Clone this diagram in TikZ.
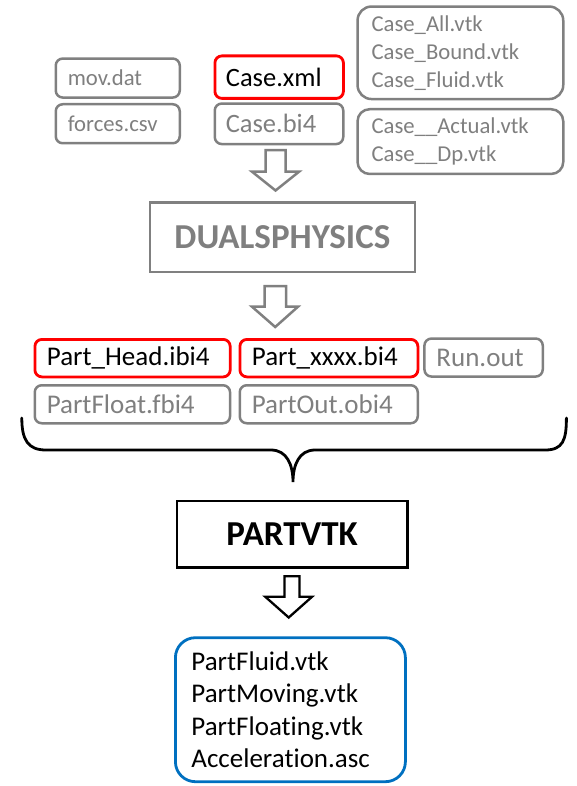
\documentclass[tikz,border=0pt]{standalone}
\usepackage{fontspec}
\setmainfont{Carlito}[Ligatures=NoCommon]
\definecolor{gbord}{HTML}{808080}
\definecolor{gtext}{HTML}{7F7F7F}
\definecolor{rbord}{HTML}{FF0000}
\definecolor{bbord}{HTML}{0070C0}
\begin{document}
\begin{tikzpicture}[x=1pt,y=-1pt,
  fbox/.style={line width=2.5pt, rounded corners=7pt, anchor=north west, align=left, inner ysep=0pt, inner xsep=12pt},
  gfile/.style={fbox, draw=gbord, text=gtext},
  rfile/.style={fbox, draw=rbord, text=black, line width=2.8pt},
  smallf/.style={font=\fontsize{22.7}{28}\selectfont},
  midf/.style={font=\fontsize{26.5}{32}\selectfont},
  bigf/.style={font=\fontsize{27}{32.3}\selectfont},
  prog/.style={line width=2.5pt, anchor=north west, inner sep=0pt, font=\bfseries\fontsize{35}{42}\selectfont},
  garrow/.style={draw=gbord, line width=2.5pt, line join=miter},
  karrow/.style={draw=black, line width=2.3pt, line join=miter},
  bracepath/.style={draw=black, line width=2.8pt, line cap=round}
]
\useasboundingbox (0,0) rectangle (576,786);

% top inputs
\node[gfile,smallf,text width=100pt,minimum height=39pt] (mov) at (54.5,57.3) {mov.dat};
\node[gfile,smallf,text width=100pt,minimum height=39pt] (forces) at (54.5,103) {forces.csv};
\node[rfile,midf,inner xsep=11pt,text width=106.5pt,minimum height=42.5pt] (xml) at (213.5,54.5) {Case.xml};
\node[gfile,midf,inner xsep=11pt,text width=106.5pt,minimum height=40.5pt] (bi4) at (213.5,102.3) {Case.bi4};
\node[gfile,smallf,inner xsep=14pt,rounded corners=14pt,text width=177.7pt,minimum height=92.5pt] (caseall) at (356.3,5.3) {Case\_All.vtk\\Case\_Bound.vtk\\Case\_Fluid.vtk};
\node[gfile,smallf,inner xsep=14pt,rounded corners=12pt,text width=177.7pt,minimum height=64.7pt] (caseact) at (356.3,108) {Case\_\_Actual.vtk\\Case\_\_Dp.vtk};

% arrow 1
\draw[garrow] (265.5,150.2) -- (285.5,150.2) -- (285.5,171.7) -- (299,171.7) -- (275.5,190.5) -- (252,171.7) -- (265.5,171.7) -- cycle;

% DUALSPHYSICS
\node[prog,draw=gbord,text=gtext,minimum width=265.3pt,minimum height=69.3pt] (dual) at (148.5,201.2) {DUALSPHYSICS};

% arrow 2
\draw[garrow] (264.5,286.2) -- (286,286.2) -- (286,306.7) -- (298,306.7) -- (275.2,327) -- (252,306.7) -- (264.5,306.7) -- cycle;

% outputs of DualSPHysics
\node[rfile,bigf,text width=171.3pt,minimum height=37.5pt] (head) at (33.5,338) {Part\_Head.ibi4};
\node[rfile,bigf,text width=154pt,minimum height=37.5pt] (xxxx) at (238.5,338) {Part\_xxxx.bi4};
\node[gfile,bigf,text width=94.3pt,minimum height=38pt] (run) at (423.2,337.3) {Run.out};
\node[gfile,bigf,text width=171.3pt,minimum height=38pt] (float) at (33.5,384) {PartFloat.fbi4};
\node[gfile,bigf,text width=154pt,minimum height=38pt] (pout) at (238.5,384) {PartOut.obi4};

% brace
\draw[bracepath] (21.8,418) .. controls (21.8,440) and (28,450) .. (46,450) -- (271,450) .. controls (287,450) and (293,465) .. (293,482) .. controls (293,465) and (299,450) .. (315,450) -- (545,450) .. controls (563,450) and (566.4,440) .. (566.4,418);

% PARTVTK
\node[prog,draw=black,text=black,line width=2.8pt,minimum width=230.5pt,minimum height=66.5pt] (vtk) at (175.5,499.5) {PARTVTK};

% arrow 3
\draw[karrow] (284.5,576.2) -- (299.5,576.2) -- (299.5,596.7) -- (312.1,596.7) -- (288.7,617.5) -- (265.2,596.7) -- (284.5,596.7) -- cycle;

% final outputs
\node[fbox,draw=bbord,line width=2.8pt,rounded corners=20pt,bigf,inner xsep=16pt,text width=198pt,minimum height=144pt] (out) at (174,636.3) {PartFluid.vtk\\PartMoving.vtk\\PartFloating.vtk\\Acceleration.asc};
\end{tikzpicture}
\end{document}
